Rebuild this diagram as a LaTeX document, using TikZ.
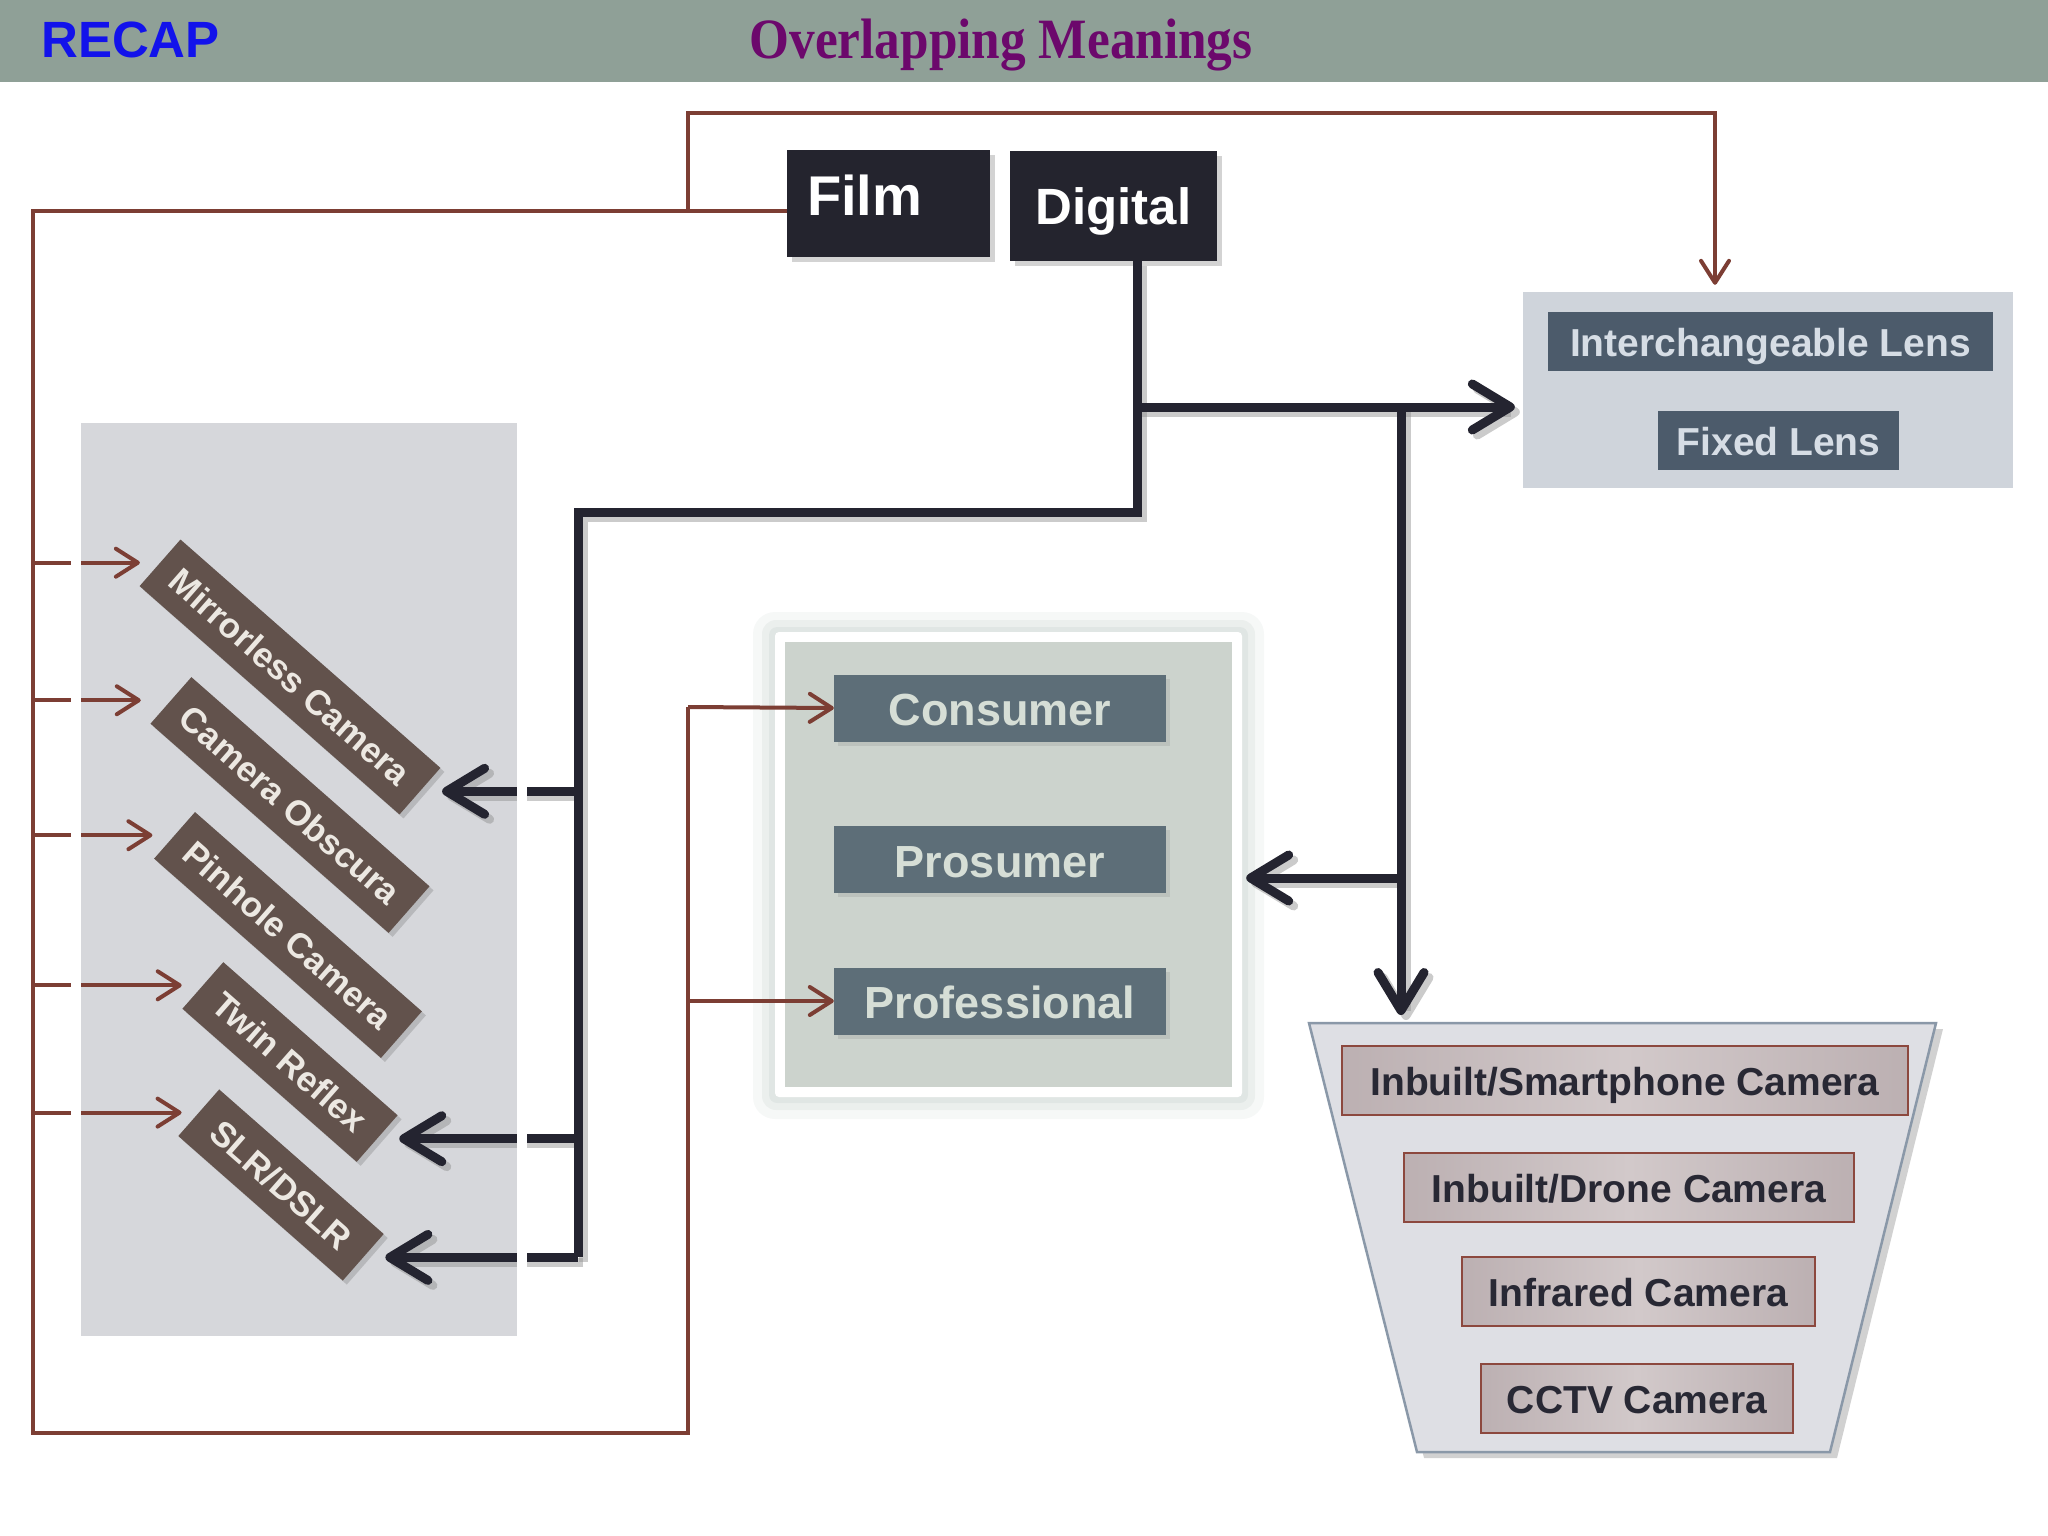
\documentclass[tikz,border=0pt]{standalone}
\usepackage{fontspec}
\setmainfont{Liberation Sans}
\newfontfamily\titlefont{Liberation Serif}
\usepackage{graphicx}
\usetikzlibrary{arrows.meta,shadows}

\definecolor{headerbg}{RGB}{143,160,151}
\definecolor{recapblue}{RGB}{18,18,235}
\definecolor{titlepurple}{RGB}{108,8,108}
\definecolor{brownline}{RGB}{124,62,52}
\definecolor{darkline}{RGB}{36,36,48}
\definecolor{darkbox}{RGB}{36,36,46}
\definecolor{panelgray}{RGB}{214,215,219}
\definecolor{diagbrown}{RGB}{98,82,76}
\definecolor{diagtext}{RGB}{236,232,226}
\definecolor{lenspanelc}{RGB}{207,212,219}
\definecolor{lensbox}{RGB}{76,91,107}
\definecolor{lenstext}{RGB}{214,221,229}
\definecolor{conspanelc}{RGB}{204,211,205}
\definecolor{consglow}{RGB}{214,222,219}
\definecolor{consbox}{RGB}{93,110,120}
\definecolor{constext}{RGB}{214,222,214}
\definecolor{funnelfill}{RGB}{222,223,228}
\definecolor{funneledge}{RGB}{138,152,168}
\definecolor{fboxA}{RGB}{188,176,178}
\definecolor{fboxB}{RGB}{210,201,202}
\definecolor{fboxedge}{RGB}{140,72,62}
\definecolor{ftext}{RGB}{40,40,52}

\tikzset{
  fs/.style={font=\fontsize{#1}{#1}\selectfont\bfseries},
  topbox/.style={fill=darkbox, text=white, inner sep=0pt,
    drop shadow={shadow xshift=5pt, shadow yshift=-5pt, opacity=.35}},
  diag/.style={fill=diagbrown, text=diagtext, rotate=-41.3, minimum height=62pt,
    inner sep=0pt, fs=35, drop shadow={shadow xshift=4pt, shadow yshift=-4pt, opacity=.35}},
  lbox/.style={fill=lensbox, text=lenstext, fs=39, text height=44pt, text depth=15pt, inner sep=0pt},
  cbox/.style={fill=consbox, text=constext, fs=45, minimum width=332pt, text height=51pt, text depth=16pt,
    inner sep=0pt, drop shadow={shadow xshift=4pt, shadow yshift=-4pt, opacity=.2}},
  funbox/.style={draw=fboxedge, line width=1.5pt, left color=fboxA, right color=fboxA,
    middle color=fboxB, text=ftext, fs=39, text height=49pt, text depth=20pt, inner sep=0pt},
  br/.style={draw=brownline, line width=4pt},
  brarrow/.style={br, -{Straight Barb[length=22pt,width=28pt,round]}},
  dk/.style={draw=darkline, line width=9pt},
  dkarrow/.style={dk, -{Straight Barb[length=38pt,width=46pt,round]}},
}

\newcommand\darkconnectors{%
  \draw[dk] (digital.south -| dJ1) -- (dJ2) -- (dL) -- (dL |- slr.east);
  \draw[dkarrow, shorten >=22pt] (dL |- mirror.east) -- (mirror.east);
  \draw[dkarrow, shorten >=22pt] (dL |- twin.east) -- (twin.east);
  \draw[dkarrow, shorten >=22pt] (dL |- slr.east) -- (slr.east);
  \draw[dkarrow, shorten >=8pt] (dJ1) -- (dJ1 -| lenspanel.west);
  \draw[dkarrow, shorten >=8pt] (dR) -- (dR |- funneltop);
  \draw[dkarrow, shorten >=4pt] (dP) -- (dP -| consframe.east);
}

\begin{document}
\begin{tikzpicture}[x=1pt, y=-1pt]
\useasboundingbox (0,0) rectangle (2048,1536);

% header
\node[fill=headerbg, minimum width=2048pt, minimum height=82pt, inner sep=0pt, anchor=north west] (header) at (0,0) {};
\node[anchor=base west, text=recapblue, fs=51, inner sep=0pt] (recap) at (41,58) {RECAP};
\node[anchor=base, text=titlepurple, inner sep=0pt, font=\titlefont\fontsize{57}{57}\selectfont\bfseries] (title) at (1001,59) {\scalebox{0.9}[1]{Overlapping Meanings}};

% left panel
\node[fill=panelgray, minimum width=436pt, minimum height=913pt, inner sep=0pt] (devpanel) at (299,879.5) {};

% lens panel
\node[fill=lenspanelc, minimum width=490pt, minimum height=196pt, inner sep=0pt] (lenspanel) at (1768,390) {};
\node[lbox, minimum width=445pt] (interch) at (1770.5,341.5) {Interchangeable Lens};
\node[lbox, minimum width=241pt] (fixed) at (1778.5,440.5) {Fixed Lens};

% consumer panel
\fill[consglow, opacity=.22, rounded corners=22pt] (753,612) rectangle (1264,1119);
\fill[consglow, opacity=.35, rounded corners=14pt] (762,620) rectangle (1255,1110);
\fill[consglow, opacity=.5, rounded corners=8pt] (769,627) rectangle (1248,1103);
\node[fill=white, rounded corners=4pt, minimum width=467pt, minimum height=465pt, inner sep=0pt] (consframe) at (1008.5,864.5) {};
\node[fill=conspanelc, minimum width=447pt, minimum height=445pt, inner sep=0pt] (conspanel) at (1008.5,864.5) {};
\node[cbox] (consumer) at (1000,708) {Consumer};
\node[cbox] (prosumer) at (1000,859.5) {Prosumer};
\node[cbox] (professional) at (1000,1001) {Professional};

% funnel
\fill[black!40, opacity=.45] (1316,1029) -- (1943,1029) -- (1837,1458) -- (1424,1458) -- cycle;
\draw[fill=funnelfill, draw=funneledge, line width=2.5pt] (1309,1023) -- (1936,1023) -- (1830,1452) -- (1417,1452) -- cycle;
\coordinate (funneltop) at (1401,1023);
\node[funbox, minimum width=566pt] (smart) at (1625,1080.5) {Inbuilt/Smartphone Camera};
\node[funbox, minimum width=450pt] (drone) at (1629,1187.5) {Inbuilt/Drone Camera};
\node[funbox, minimum width=353pt] (infrared) at (1638.5,1291.5) {Infrared Camera};
\node[funbox, minimum width=312pt] (cctv) at (1637,1398.5) {CCTV Camera};

% film / digital
\node[topbox, fs=56, text width=163pt, align=left, inner xsep=20pt, text height=65pt, text depth=42pt] (film) at (888.5,203.5) {Film};
\node[topbox, fs=51, minimum width=207pt, text height=73.5pt, text depth=36.5pt] (digital) at (1113.5,206) {Digital\hspace{8pt}};

% diagonal camera boxes
\node[diag, minimum width=346pt] (mirror) at (290,677) {Mirrorless Camera};
\node[diag, minimum width=317pt] (obscura) at (290,805) {Camera Obscura};
\node[diag, minimum width=302pt] (pinhole) at (288,935) {Pinhole Camera};
\node[diag, minimum width=232pt] (twin) at (290,1062) {Twin Reflex};
\node[diag, minimum width=219pt] (slr) at (281,1185) {SLR/DSLR};

% junction coordinates
\coordinate (bTL) at (33,211);
\coordinate (bBL) at (33,1433);
\coordinate (bBR) at (688,1433);
\coordinate (bC) at (688,707);
\coordinate (bT) at (688,113);
\coordinate (bTR) at (1715,113);
\coordinate (dJ1) at (1137,407);
\coordinate (dJ2) at (1137,512);
\coordinate (dL) at (578,512);
\coordinate (dR) at (1401,407);
\coordinate (dP) at (1401,878);

% brown connectors
\draw[br] (film.west |- bTL) -- (bTL) -- (bBL) -- (bBR) -- (bC);
\draw[brarrow, shorten >=7pt] (bC |- bTL) -- (bT) -- (bTR) -- (bTR |- lenspanel.north);
\draw[brarrow] (bC) -- (consumer.west);
\draw[brarrow] (bC |- professional.west) -- (professional.west);
\draw[brarrow, shorten >=20pt] (bTL |- mirror.west) -- (mirror.west);
\draw[brarrow, shorten >=30pt] (bTL |- obscura.west) -- (obscura.west);
\draw[brarrow, shorten >=22pt] (bTL |- pinhole.west) -- (pinhole.west);
\draw[brarrow, shorten >=21pt] (bTL |- twin.west) -- (twin.west);
\draw[brarrow, shorten >=17pt] (bTL |- slr.west) -- (slr.west);

% dark connectors with shadow
\begin{scope}[transform canvas={shift={(5pt,-5pt)}}, dk/.style={draw=black!45, line width=9pt, opacity=.45}]
\darkconnectors
\end{scope}
\darkconnectors

% white gaps at the left panel edges
\draw[white, line width=10pt] (76,418) rectangle (522,1341);
\end{tikzpicture}
\end{document}
